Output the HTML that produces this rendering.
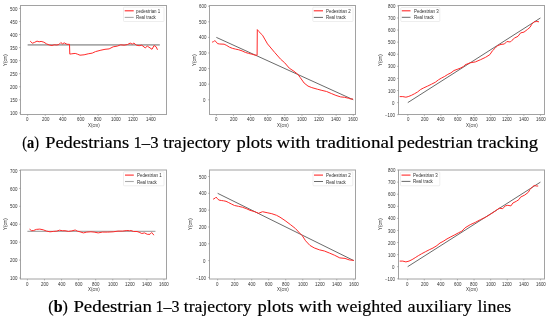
<!DOCTYPE html>
<html><head><meta charset="utf-8"><title>Pedestrian trajectory plots</title>
<style>
html,body{margin:0;padding:0;background:#fff;}
body{width:550px;height:322px;overflow:hidden;position:relative;}
svg{display:block;}
.cap{font-family:"Liberation Serif","DejaVu Serif",serif;fill:#000;font-size:16.5px;stroke:#000;stroke-width:0.18px;}
.t{position:absolute;left:0;top:0;transform-origin:0 0;font-family:'Liberation Sans', Arial, sans-serif;font-size:40px;line-height:40px;color:#303030;white-space:nowrap;}
svg{position:absolute;left:0;top:0;}
</style></head><body>
<svg width="550" height="322" viewBox="0 0 550 322">
<rect width="550" height="322" fill="#fff"/>
<g class="ax">
<polyline points="27.65,44.97 159.8,44.97" fill="none" stroke="#a9a9a9" stroke-width="1.7"/>
<polyline points="30.2,41.1 32.3,43.2 34.3,42.5 37,41.1 39.1,41.8 41.1,41.4 43.9,42.2 46.6,43.9 49.3,45 52,45.5 54.1,44.8 56.8,45 58.9,44.5 60.9,42.5 62.3,43.9 64.3,42.9 67,44.3 69.5,44.3 69.8,54.1 71.8,53.8 75.2,53.4 77.3,54.1 80,55.2 84.1,54.8 88.2,53.8 92.3,53.1 95.5,51.6 100.9,50.2 105,49.3 109.1,48.9 113.2,46.8 117.3,46.1 120.7,44.8 124.1,45.2 127.5,44.5 130.2,43.1 132.3,44.1 133.9,43.1 136.4,45.2 139.1,45.7 141.8,45.2 145.2,47.9 147.3,46.1 150,47.9 152,49.3 154.1,45.5 156.1,46.8 157.5,49.8" fill="none" stroke="#ff2a2a" stroke-width="1.0" stroke-linejoin="round"/>
<rect x="20.5" y="5.5" width="146" height="109" fill="none" stroke="#a2a2a2" stroke-width="1"/>
<path d="M27.65 114.5v1.4 M45.27 114.5v1.4 M62.89 114.5v1.4 M80.51 114.5v1.4 M98.13 114.5v1.4 M115.75 114.5v1.4 M133.37 114.5v1.4 M150.99 114.5v1.4 M20.5 112.88h-1.4 M20.5 99.82h-1.4 M20.5 86.76h-1.4 M20.5 73.7h-1.4 M20.5 60.64h-1.4 M20.5 47.58h-1.4 M20.5 34.52h-1.4 M20.5 21.46h-1.4 M20.5 8.4h-1.4" stroke="#8a8a8a" stroke-width="0.6" fill="none"/>
<rect x="123.5" y="7.2" width="40.5" height="14.3" rx="0.8" fill="#fff" fill-opacity="0.8" stroke="#dcdcdc" stroke-width="0.5"/>
<path d="M124.7 10.8H133.7" stroke="#ff2a2a" stroke-width="1.1"/>
<path d="M124.7 17.4H133.7" stroke="#a9a9a9" stroke-width="1.1"/>
<polyline points="216.35,37.39 353.31,99.75" fill="none" stroke="#6a6a6a" stroke-width="1.0"/>
<polyline points="212.1,42.2 213.5,41.6 214.8,40.7 215.9,41.5 217.5,43.6 219.7,44 224.1,44.2 226.8,45.5 229.5,47.2 232.3,48.3 235.5,49.1 238.8,49.8 242.1,50.9 245.3,52.4 248.6,53.4 251.9,54.2 255.2,55.1 257.1,55.3 257.3,29.6 258.8,31.5 262.5,35.2 267.5,43.9 274.8,52.6 280.6,59.2 284.7,62.8 289.3,68.2 294,71.3 297.9,74.4 300.2,77.5 304.1,83 308,86.1 311.8,87.6 317.3,89.2 321.9,90.4 326.6,91.5 331.3,93.5 335.9,95.4 340.6,96.9 344.5,97.3 348.3,98.2 350.7,99 353,99" fill="none" stroke="#ff2a2a" stroke-width="1.0" stroke-linejoin="round"/>
<rect x="209.5" y="5.5" width="146" height="109" fill="none" stroke="#a2a2a2" stroke-width="1"/>
<path d="M216.35 114.5v1.4 M233.47 114.5v1.4 M250.59 114.5v1.4 M267.71 114.5v1.4 M284.83 114.5v1.4 M301.95 114.5v1.4 M319.07 114.5v1.4 M336.19 114.5v1.4 M353.31 114.5v1.4 M209.5 99.75h-1.4 M209.5 84.16h-1.4 M209.5 68.57h-1.4 M209.5 52.98h-1.4 M209.5 37.39h-1.4 M209.5 21.8h-1.4 M209.5 6.21h-1.4" stroke="#8a8a8a" stroke-width="0.6" fill="none"/>
<rect x="312.8" y="7.2" width="40.2" height="14.3" rx="0.8" fill="#fff" fill-opacity="0.8" stroke="#dcdcdc" stroke-width="0.5"/>
<path d="M313.8 10.8H323" stroke="#ff2a2a" stroke-width="1.1"/>
<path d="M313.8 17.4H323" stroke="#6a6a6a" stroke-width="1.0"/>
<polyline points="407.8,102.6 540.44,17.97" fill="none" stroke="#6a6a6a" stroke-width="1.0"/>
<polyline points="399.7,96.6 402.8,96.6 405.9,97.2 408.2,96.6 411.3,95.4 414.4,93.8 417.5,92 420.6,89.5 423.7,87.9 427.6,86.1 431.5,84.2 435.4,82.2 438.5,79.8 441.6,78 444.7,76.4 447.8,74.4 450.9,72.9 454,70.5 457.1,69.4 460.2,68.2 463.3,66.6 465.1,64.8 470.2,62.8 475.4,61.9 480.5,59.7 485.6,57.3 489.9,54.6 492.4,50.8 495,48.3 497.5,45.7 501,44.4 504.4,44 506.9,41.5 510.3,42 512,40.3 514.6,38 518,36.3 520.6,32.9 524,32.1 527.4,29.5 530,27.3 531.7,24.4 534.2,21.8 536.8,21.5 539,21.8" fill="none" stroke="#ff2a2a" stroke-width="1.0" stroke-linejoin="round"/>
<rect x="398.5" y="5.5" width="146" height="109" fill="none" stroke="#a2a2a2" stroke-width="1"/>
<path d="M407.8 114.5v1.4 M424.38 114.5v1.4 M440.96 114.5v1.4 M457.54 114.5v1.4 M474.12 114.5v1.4 M490.7 114.5v1.4 M507.28 114.5v1.4 M523.86 114.5v1.4 M540.44 114.5v1.4 M398.5 114.69h-1.4 M398.5 102.6h-1.4 M398.5 90.51h-1.4 M398.5 78.42h-1.4 M398.5 66.33h-1.4 M398.5 54.24h-1.4 M398.5 42.15h-1.4 M398.5 30.06h-1.4 M398.5 17.97h-1.4 M398.5 5.88h-1.4" stroke="#8a8a8a" stroke-width="0.6" fill="none"/>
<rect x="400.8" y="7.5" width="39" height="14" rx="0.8" fill="#fff" fill-opacity="0.8" stroke="#dcdcdc" stroke-width="0.5"/>
<path d="M401.8 10.8H410.5" stroke="#ff2a2a" stroke-width="1.1"/>
<path d="M401.8 17.3H410.5" stroke="#6a6a6a" stroke-width="1.0"/>
<polyline points="27.4,231.41 155.43,231.41" fill="none" stroke="#a9a9a9" stroke-width="1.4"/>
<polyline points="29.5,229.1 31.6,230.7 33.6,230.5 36.4,229.4 39.8,229.1 43.2,229.8 46.6,231.1 50,231.8 53.4,231.4 56.8,231.1 59.5,230.2 62.3,230.7 65,230.7 68.4,231.4 71.8,230.9 75.2,230 77.3,231.1 80,231.8 83.4,232.9 86.8,232.1 90.9,231.8 94.1,232.1 98.2,232.9 102.3,232.1 107.7,232.1 113.2,231.8 118,231.1 122.7,231.1 126.8,230.5 129.5,230.7 130.9,230.5 133.6,231.5 137,231.5 139.1,232.2 141.8,233.5 144.5,232.9 147.3,234.3 150,234.3 151.6,232.5 153,233.9 153.8,235.2" fill="none" stroke="#ff2a2a" stroke-width="1.0" stroke-linejoin="round"/>
<rect x="20.5" y="170" width="146" height="109" fill="none" stroke="#a2a2a2" stroke-width="1"/>
<path d="M27.4 279v1.4 M44.47 279v1.4 M61.54 279v1.4 M78.61 279v1.4 M95.68 279v1.4 M112.75 279v1.4 M129.82 279v1.4 M146.89 279v1.4 M163.96 279v1.4 M20.5 278h-1.4 M20.5 260.08h-1.4 M20.5 242.16h-1.4 M20.5 224.24h-1.4 M20.5 206.32h-1.4 M20.5 188.4h-1.4 M20.5 170.48h-1.4" stroke="#8a8a8a" stroke-width="0.6" fill="none"/>
<rect x="123.5" y="171.8" width="40.5" height="14" rx="0.8" fill="#fff" fill-opacity="0.8" stroke="#dcdcdc" stroke-width="0.5"/>
<path d="M125 175.1H133.8" stroke="#ff2a2a" stroke-width="1.1"/>
<path d="M125 181.5H133.8" stroke="#a9a9a9" stroke-width="1.1"/>
<polyline points="217.65,193.32 353.81,260.6" fill="none" stroke="#6a6a6a" stroke-width="1.0"/>
<polyline points="213.1,199.3 214,198.7 215.1,198.2 216.2,197.1 217.4,198.7 219,200.1 221.3,200.5 223.6,200.8 226,201.3 228.3,202.4 231.4,204 234.5,205.5 238.4,206.3 242.3,207.2 246.2,208.6 250,210.3 254.7,211.7 258.6,213.3 262.5,211.7 267.1,212.7 271.8,213.7 276.5,215.3 280,217.2 285.1,220.6 290.3,224.5 295.4,228.5 299.7,233.1 302.2,235.6 305.6,240.8 309.9,245.4 314.2,247.9 319.3,249.8 324.4,251 329.6,253.1 334.7,255.3 339.8,257.9 345,258.4 349.2,259.9 353.8,260.4" fill="none" stroke="#ff2a2a" stroke-width="1.0" stroke-linejoin="round"/>
<rect x="209.5" y="170" width="146" height="109" fill="none" stroke="#a2a2a2" stroke-width="1"/>
<path d="M217.65 279v1.4 M234.67 279v1.4 M251.69 279v1.4 M268.71 279v1.4 M285.73 279v1.4 M302.75 279v1.4 M319.77 279v1.4 M336.79 279v1.4 M353.81 279v1.4 M209.5 277.42h-1.4 M209.5 260.6h-1.4 M209.5 243.78h-1.4 M209.5 226.96h-1.4 M209.5 210.14h-1.4 M209.5 193.32h-1.4 M209.5 176.5h-1.4" stroke="#8a8a8a" stroke-width="0.6" fill="none"/>
<rect x="313" y="171.8" width="39.8" height="14" rx="0.8" fill="#fff" fill-opacity="0.8" stroke="#dcdcdc" stroke-width="0.5"/>
<path d="M314 175.1H323" stroke="#ff2a2a" stroke-width="1.1"/>
<path d="M314 181.5H323" stroke="#6a6a6a" stroke-width="1.0"/>
<polyline points="407.65,266.7 540.45,182.14" fill="none" stroke="#6a6a6a" stroke-width="1.0"/>
<polyline points="399.7,261.1 402.8,261.1 405.9,261.9 409,261.1 412.1,259.6 415.2,257.7 418.3,255.7 421.4,253.9 425.3,251.8 429.2,249.8 433,248 436.9,245.6 440,243 443.1,241.4 447,238.9 450.9,236.8 454.8,234.8 458.7,232.7 461.8,231.2 465.1,227.8 470.2,224.7 475.4,222.3 480.5,219.6 485.6,217.2 490.7,214.1 495.8,210.7 499.2,208.2 502.7,208.7 505.2,205.9 507.8,205.3 510.9,205.9 512.9,203 516.3,201.3 518.9,199.6 520.6,197.1 524.8,195 528.3,192.3 530,189.4 532.5,186.8 534.2,185.5 536.5,186 538.2,186" fill="none" stroke="#ff2a2a" stroke-width="1.0" stroke-linejoin="round"/>
<rect x="398.5" y="170" width="146" height="109" fill="none" stroke="#a2a2a2" stroke-width="1"/>
<path d="M407.65 279v1.4 M424.25 279v1.4 M440.85 279v1.4 M457.45 279v1.4 M474.05 279v1.4 M490.65 279v1.4 M507.25 279v1.4 M523.85 279v1.4 M540.45 279v1.4 M398.5 278.78h-1.4 M398.5 266.7h-1.4 M398.5 254.62h-1.4 M398.5 242.54h-1.4 M398.5 230.46h-1.4 M398.5 218.38h-1.4 M398.5 206.3h-1.4 M398.5 194.22h-1.4 M398.5 182.14h-1.4 M398.5 170.06h-1.4" stroke="#8a8a8a" stroke-width="0.6" fill="none"/>
<rect x="400.5" y="172" width="39.3" height="13.8" rx="0.8" fill="#fff" fill-opacity="0.8" stroke="#dcdcdc" stroke-width="0.5"/>
<path d="M401.5 175.1H410.5" stroke="#ff2a2a" stroke-width="1.1"/>
<path d="M401.5 181.4H410.5" stroke="#6a6a6a" stroke-width="1.0"/>
</g>
<text class="cap" x="22.3" y="147.6" textLength="16.7" lengthAdjust="spacingAndGlyphs">(<tspan font-weight="bold">a</tspan>)</text>
<text class="cap" x="45.2" y="147.6" textLength="83.9" lengthAdjust="spacingAndGlyphs">Pedestrians</text>
<text class="cap" x="133.5" y="147.6" textLength="25" lengthAdjust="spacingAndGlyphs">1–3</text>
<text class="cap" x="163.3" y="147.6" textLength="67.6" lengthAdjust="spacingAndGlyphs">trajectory</text>
<text class="cap" x="236.4" y="147.6" textLength="36" lengthAdjust="spacingAndGlyphs">plots</text>
<text class="cap" x="276.5" y="147.6" textLength="33.9" lengthAdjust="spacingAndGlyphs">with</text>
<text class="cap" x="315.8" y="147.6" textLength="78.4" lengthAdjust="spacingAndGlyphs">traditional</text>
<text class="cap" x="397.5" y="147.6" textLength="75.2" lengthAdjust="spacingAndGlyphs">pedestrian</text>
<text class="cap" x="477.1" y="147.6" textLength="61.1" lengthAdjust="spacingAndGlyphs">tracking</text>
<text class="cap" x="48.3" y="311.7" textLength="19.6" lengthAdjust="spacingAndGlyphs">(<tspan font-weight="bold">b</tspan>)</text>
<text class="cap" x="73.4" y="311.7" textLength="78.5" lengthAdjust="spacingAndGlyphs">Pedestrian</text>
<text class="cap" x="155.5" y="311.7" textLength="24" lengthAdjust="spacingAndGlyphs">1–3</text>
<text class="cap" x="183.8" y="311.7" textLength="67.7" lengthAdjust="spacingAndGlyphs">trajectory</text>
<text class="cap" x="257.6" y="311.7" textLength="36" lengthAdjust="spacingAndGlyphs">plots</text>
<text class="cap" x="298.4" y="311.7" textLength="33.4" lengthAdjust="spacingAndGlyphs">with</text>
<text class="cap" x="336.5" y="311.7" textLength="65.5" lengthAdjust="spacingAndGlyphs">weighted</text>
<text class="cap" x="407.6" y="311.7" textLength="64.4" lengthAdjust="spacingAndGlyphs">auxiliary</text>
<text class="cap" x="477.5" y="311.7" textLength="33.8" lengthAdjust="spacingAndGlyphs">lines</text>
</svg>
<div class="t" style="transform:translate(26px,121.4px) scale(0.11) translate(0,-34px)">0</div>
<div class="t" style="transform:translate(42px,121.4px) scale(0.11) translate(0,-34px)">200</div>
<div class="t" style="transform:translate(59px,121.4px) scale(0.11) translate(0,-34px)">400</div>
<div class="t" style="transform:translate(77px,121.4px) scale(0.11) translate(0,-34px)">600</div>
<div class="t" style="transform:translate(94px,121.4px) scale(0.11) translate(0,-34px)">800</div>
<div class="t" style="transform:translate(111px,121.4px) scale(0.11) translate(0,-34px)">1000</div>
<div class="t" style="transform:translate(128px,121.4px) scale(0.11) translate(0,-34px)">1200</div>
<div class="t" style="transform:translate(146px,121.4px) scale(0.11) translate(0,-34px)">1400</div>
<div class="t" style="transform:translate(10px,114.98px) scale(0.11) translate(0,-34px)">100</div>
<div class="t" style="transform:translate(10px,101.92px) scale(0.11) translate(0,-34px)">150</div>
<div class="t" style="transform:translate(10px,88.86px) scale(0.11) translate(0,-34px)">200</div>
<div class="t" style="transform:translate(10px,75.8px) scale(0.11) translate(0,-34px)">250</div>
<div class="t" style="transform:translate(10px,62.74px) scale(0.11) translate(0,-34px)">300</div>
<div class="t" style="transform:translate(10px,49.68px) scale(0.11) translate(0,-34px)">350</div>
<div class="t" style="transform:translate(10px,36.62px) scale(0.11) translate(0,-34px)">400</div>
<div class="t" style="transform:translate(10px,23.56px) scale(0.11) translate(0,-34px)">450</div>
<div class="t" style="transform:translate(10px,10.5px) scale(0.11) translate(0,-34px)">500</div>
<div class="t" style="transform:translate(88px,126.7px) scale(0.11) translate(0,-34px)">X(cm)</div>
<div class="t" style="transform:translate(7px,66px) rotate(-90deg) scale(0.11) translate(0,-34px)">Y(cm)</div>
<div class="t" style="transform:translate(136px,12.8px) scale(0.11) translate(0,-34px)">pedestrian 1</div>
<div class="t" style="transform:translate(136px,19.4px) scale(0.11) translate(0,-34px)">Real track</div>
<div class="t" style="transform:translate(215px,121.4px) scale(0.11) translate(0,-34px)">0</div>
<div class="t" style="transform:translate(230px,121.4px) scale(0.11) translate(0,-34px)">200</div>
<div class="t" style="transform:translate(247px,121.4px) scale(0.11) translate(0,-34px)">400</div>
<div class="t" style="transform:translate(264px,121.4px) scale(0.11) translate(0,-34px)">600</div>
<div class="t" style="transform:translate(281px,121.4px) scale(0.11) translate(0,-34px)">800</div>
<div class="t" style="transform:translate(297px,121.4px) scale(0.11) translate(0,-34px)">1000</div>
<div class="t" style="transform:translate(314px,121.4px) scale(0.11) translate(0,-34px)">1200</div>
<div class="t" style="transform:translate(331px,121.4px) scale(0.11) translate(0,-34px)">1400</div>
<div class="t" style="transform:translate(348px,121.4px) scale(0.11) translate(0,-34px)">1600</div>
<div class="t" style="transform:translate(203px,101.85px) scale(0.11) translate(0,-34px)">0</div>
<div class="t" style="transform:translate(199px,86.26px) scale(0.11) translate(0,-34px)">100</div>
<div class="t" style="transform:translate(199px,70.67px) scale(0.11) translate(0,-34px)">200</div>
<div class="t" style="transform:translate(199px,55.08px) scale(0.11) translate(0,-34px)">300</div>
<div class="t" style="transform:translate(199px,39.49px) scale(0.11) translate(0,-34px)">400</div>
<div class="t" style="transform:translate(199px,23.9px) scale(0.11) translate(0,-34px)">500</div>
<div class="t" style="transform:translate(199px,8.31px) scale(0.11) translate(0,-34px)">600</div>
<div class="t" style="transform:translate(277px,126.7px) scale(0.11) translate(0,-34px)">X(cm)</div>
<div class="t" style="transform:translate(196px,66px) rotate(-90deg) scale(0.11) translate(0,-34px)">Y(cm)</div>
<div class="t" style="transform:translate(326px,12.8px) scale(0.11) translate(0,-34px)">Pedestrian 2</div>
<div class="t" style="transform:translate(326px,19.4px) scale(0.11) translate(0,-34px)">Real track</div>
<div class="t" style="transform:translate(407px,121.4px) scale(0.11) translate(0,-34px)">0</div>
<div class="t" style="transform:translate(421px,121.4px) scale(0.11) translate(0,-34px)">200</div>
<div class="t" style="transform:translate(437px,121.4px) scale(0.11) translate(0,-34px)">400</div>
<div class="t" style="transform:translate(454px,121.4px) scale(0.11) translate(0,-34px)">600</div>
<div class="t" style="transform:translate(470px,121.4px) scale(0.11) translate(0,-34px)">800</div>
<div class="t" style="transform:translate(486px,121.4px) scale(0.11) translate(0,-34px)">1000</div>
<div class="t" style="transform:translate(502px,121.4px) scale(0.11) translate(0,-34px)">1200</div>
<div class="t" style="transform:translate(519px,121.4px) scale(0.11) translate(0,-34px)">1400</div>
<div class="t" style="transform:translate(536px,121.4px) scale(0.11) translate(0,-34px)">1600</div>
<div class="t" style="transform:translate(385px,116.79px) scale(0.11) translate(0,-34px)">−100</div>
<div class="t" style="transform:translate(392px,104.7px) scale(0.11) translate(0,-34px)">0</div>
<div class="t" style="transform:translate(388px,92.61px) scale(0.11) translate(0,-34px)">100</div>
<div class="t" style="transform:translate(388px,80.52px) scale(0.11) translate(0,-34px)">200</div>
<div class="t" style="transform:translate(388px,68.43px) scale(0.11) translate(0,-34px)">300</div>
<div class="t" style="transform:translate(388px,56.34px) scale(0.11) translate(0,-34px)">400</div>
<div class="t" style="transform:translate(388px,44.25px) scale(0.11) translate(0,-34px)">500</div>
<div class="t" style="transform:translate(388px,32.16px) scale(0.11) translate(0,-34px)">600</div>
<div class="t" style="transform:translate(388px,20.07px) scale(0.11) translate(0,-34px)">700</div>
<div class="t" style="transform:translate(388px,7.98px) scale(0.11) translate(0,-34px)">800</div>
<div class="t" style="transform:translate(466px,126.7px) scale(0.11) translate(0,-34px)">X(cm)</div>
<div class="t" style="transform:translate(382px,66px) rotate(-90deg) scale(0.11) translate(0,-34px)">Y(cm)</div>
<div class="t" style="transform:translate(414px,12.8px) scale(0.11) translate(0,-34px)">Pedestrian 3</div>
<div class="t" style="transform:translate(414px,19.3px) scale(0.11) translate(0,-34px)">Real track</div>
<div class="t" style="transform:translate(26px,285.9px) scale(0.11) translate(0,-34px)">0</div>
<div class="t" style="transform:translate(41px,285.9px) scale(0.11) translate(0,-34px)">200</div>
<div class="t" style="transform:translate(58px,285.9px) scale(0.11) translate(0,-34px)">400</div>
<div class="t" style="transform:translate(75px,285.9px) scale(0.11) translate(0,-34px)">600</div>
<div class="t" style="transform:translate(92px,285.9px) scale(0.11) translate(0,-34px)">800</div>
<div class="t" style="transform:translate(108px,285.9px) scale(0.11) translate(0,-34px)">1000</div>
<div class="t" style="transform:translate(125px,285.9px) scale(0.11) translate(0,-34px)">1200</div>
<div class="t" style="transform:translate(142px,285.9px) scale(0.11) translate(0,-34px)">1400</div>
<div class="t" style="transform:translate(159px,285.9px) scale(0.11) translate(0,-34px)">1600</div>
<div class="t" style="transform:translate(10px,280.1px) scale(0.11) translate(0,-34px)">100</div>
<div class="t" style="transform:translate(10px,262.18px) scale(0.11) translate(0,-34px)">200</div>
<div class="t" style="transform:translate(10px,244.26px) scale(0.11) translate(0,-34px)">300</div>
<div class="t" style="transform:translate(10px,226.34px) scale(0.11) translate(0,-34px)">400</div>
<div class="t" style="transform:translate(10px,208.42px) scale(0.11) translate(0,-34px)">500</div>
<div class="t" style="transform:translate(10px,190.5px) scale(0.11) translate(0,-34px)">600</div>
<div class="t" style="transform:translate(10px,172.58px) scale(0.11) translate(0,-34px)">700</div>
<div class="t" style="transform:translate(88px,291.2px) scale(0.11) translate(0,-34px)">X(cm)</div>
<div class="t" style="transform:translate(7px,230px) rotate(-90deg) scale(0.11) translate(0,-34px)">Y(cm)</div>
<div class="t" style="transform:translate(137px,177.1px) scale(0.11) translate(0,-34px)">Pedestrian 1</div>
<div class="t" style="transform:translate(137px,183.5px) scale(0.11) translate(0,-34px)">Real track</div>
<div class="t" style="transform:translate(216px,285.9px) scale(0.11) translate(0,-34px)">0</div>
<div class="t" style="transform:translate(231px,285.9px) scale(0.11) translate(0,-34px)">200</div>
<div class="t" style="transform:translate(248px,285.9px) scale(0.11) translate(0,-34px)">400</div>
<div class="t" style="transform:translate(265px,285.9px) scale(0.11) translate(0,-34px)">600</div>
<div class="t" style="transform:translate(282px,285.9px) scale(0.11) translate(0,-34px)">800</div>
<div class="t" style="transform:translate(298px,285.9px) scale(0.11) translate(0,-34px)">1000</div>
<div class="t" style="transform:translate(315px,285.9px) scale(0.11) translate(0,-34px)">1200</div>
<div class="t" style="transform:translate(332px,285.9px) scale(0.11) translate(0,-34px)">1400</div>
<div class="t" style="transform:translate(349px,285.9px) scale(0.11) translate(0,-34px)">1600</div>
<div class="t" style="transform:translate(196px,279.52px) scale(0.11) translate(0,-34px)">−100</div>
<div class="t" style="transform:translate(203px,262.7px) scale(0.11) translate(0,-34px)">0</div>
<div class="t" style="transform:translate(199px,245.88px) scale(0.11) translate(0,-34px)">100</div>
<div class="t" style="transform:translate(199px,229.06px) scale(0.11) translate(0,-34px)">200</div>
<div class="t" style="transform:translate(199px,212.24px) scale(0.11) translate(0,-34px)">300</div>
<div class="t" style="transform:translate(199px,195.42px) scale(0.11) translate(0,-34px)">400</div>
<div class="t" style="transform:translate(199px,178.6px) scale(0.11) translate(0,-34px)">500</div>
<div class="t" style="transform:translate(277px,291.2px) scale(0.11) translate(0,-34px)">X(cm)</div>
<div class="t" style="transform:translate(192px,230px) rotate(-90deg) scale(0.11) translate(0,-34px)">Y(cm)</div>
<div class="t" style="transform:translate(326px,177.1px) scale(0.11) translate(0,-34px)">Pedestrian 2</div>
<div class="t" style="transform:translate(326px,183.5px) scale(0.11) translate(0,-34px)">Real track</div>
<div class="t" style="transform:translate(406px,285.9px) scale(0.11) translate(0,-34px)">0</div>
<div class="t" style="transform:translate(421px,285.9px) scale(0.11) translate(0,-34px)">200</div>
<div class="t" style="transform:translate(437px,285.9px) scale(0.11) translate(0,-34px)">400</div>
<div class="t" style="transform:translate(454px,285.9px) scale(0.11) translate(0,-34px)">600</div>
<div class="t" style="transform:translate(470px,285.9px) scale(0.11) translate(0,-34px)">800</div>
<div class="t" style="transform:translate(486px,285.9px) scale(0.11) translate(0,-34px)">1000</div>
<div class="t" style="transform:translate(502px,285.9px) scale(0.11) translate(0,-34px)">1200</div>
<div class="t" style="transform:translate(519px,285.9px) scale(0.11) translate(0,-34px)">1400</div>
<div class="t" style="transform:translate(536px,285.9px) scale(0.11) translate(0,-34px)">1600</div>
<div class="t" style="transform:translate(385px,280.88px) scale(0.11) translate(0,-34px)">−100</div>
<div class="t" style="transform:translate(392px,268.8px) scale(0.11) translate(0,-34px)">0</div>
<div class="t" style="transform:translate(388px,256.72px) scale(0.11) translate(0,-34px)">100</div>
<div class="t" style="transform:translate(388px,244.64px) scale(0.11) translate(0,-34px)">200</div>
<div class="t" style="transform:translate(388px,232.56px) scale(0.11) translate(0,-34px)">300</div>
<div class="t" style="transform:translate(388px,220.48px) scale(0.11) translate(0,-34px)">400</div>
<div class="t" style="transform:translate(388px,208.4px) scale(0.11) translate(0,-34px)">500</div>
<div class="t" style="transform:translate(388px,196.32px) scale(0.11) translate(0,-34px)">600</div>
<div class="t" style="transform:translate(388px,184.24px) scale(0.11) translate(0,-34px)">700</div>
<div class="t" style="transform:translate(388px,172.16px) scale(0.11) translate(0,-34px)">800</div>
<div class="t" style="transform:translate(466px,291.2px) scale(0.11) translate(0,-34px)">X(cm)</div>
<div class="t" style="transform:translate(382px,230px) rotate(-90deg) scale(0.11) translate(0,-34px)">Y(cm)</div>
<div class="t" style="transform:translate(413px,177.1px) scale(0.11) translate(0,-34px)">Pedestrian 3</div>
<div class="t" style="transform:translate(413px,183.4px) scale(0.11) translate(0,-34px)">Real track</div>
</body></html>
